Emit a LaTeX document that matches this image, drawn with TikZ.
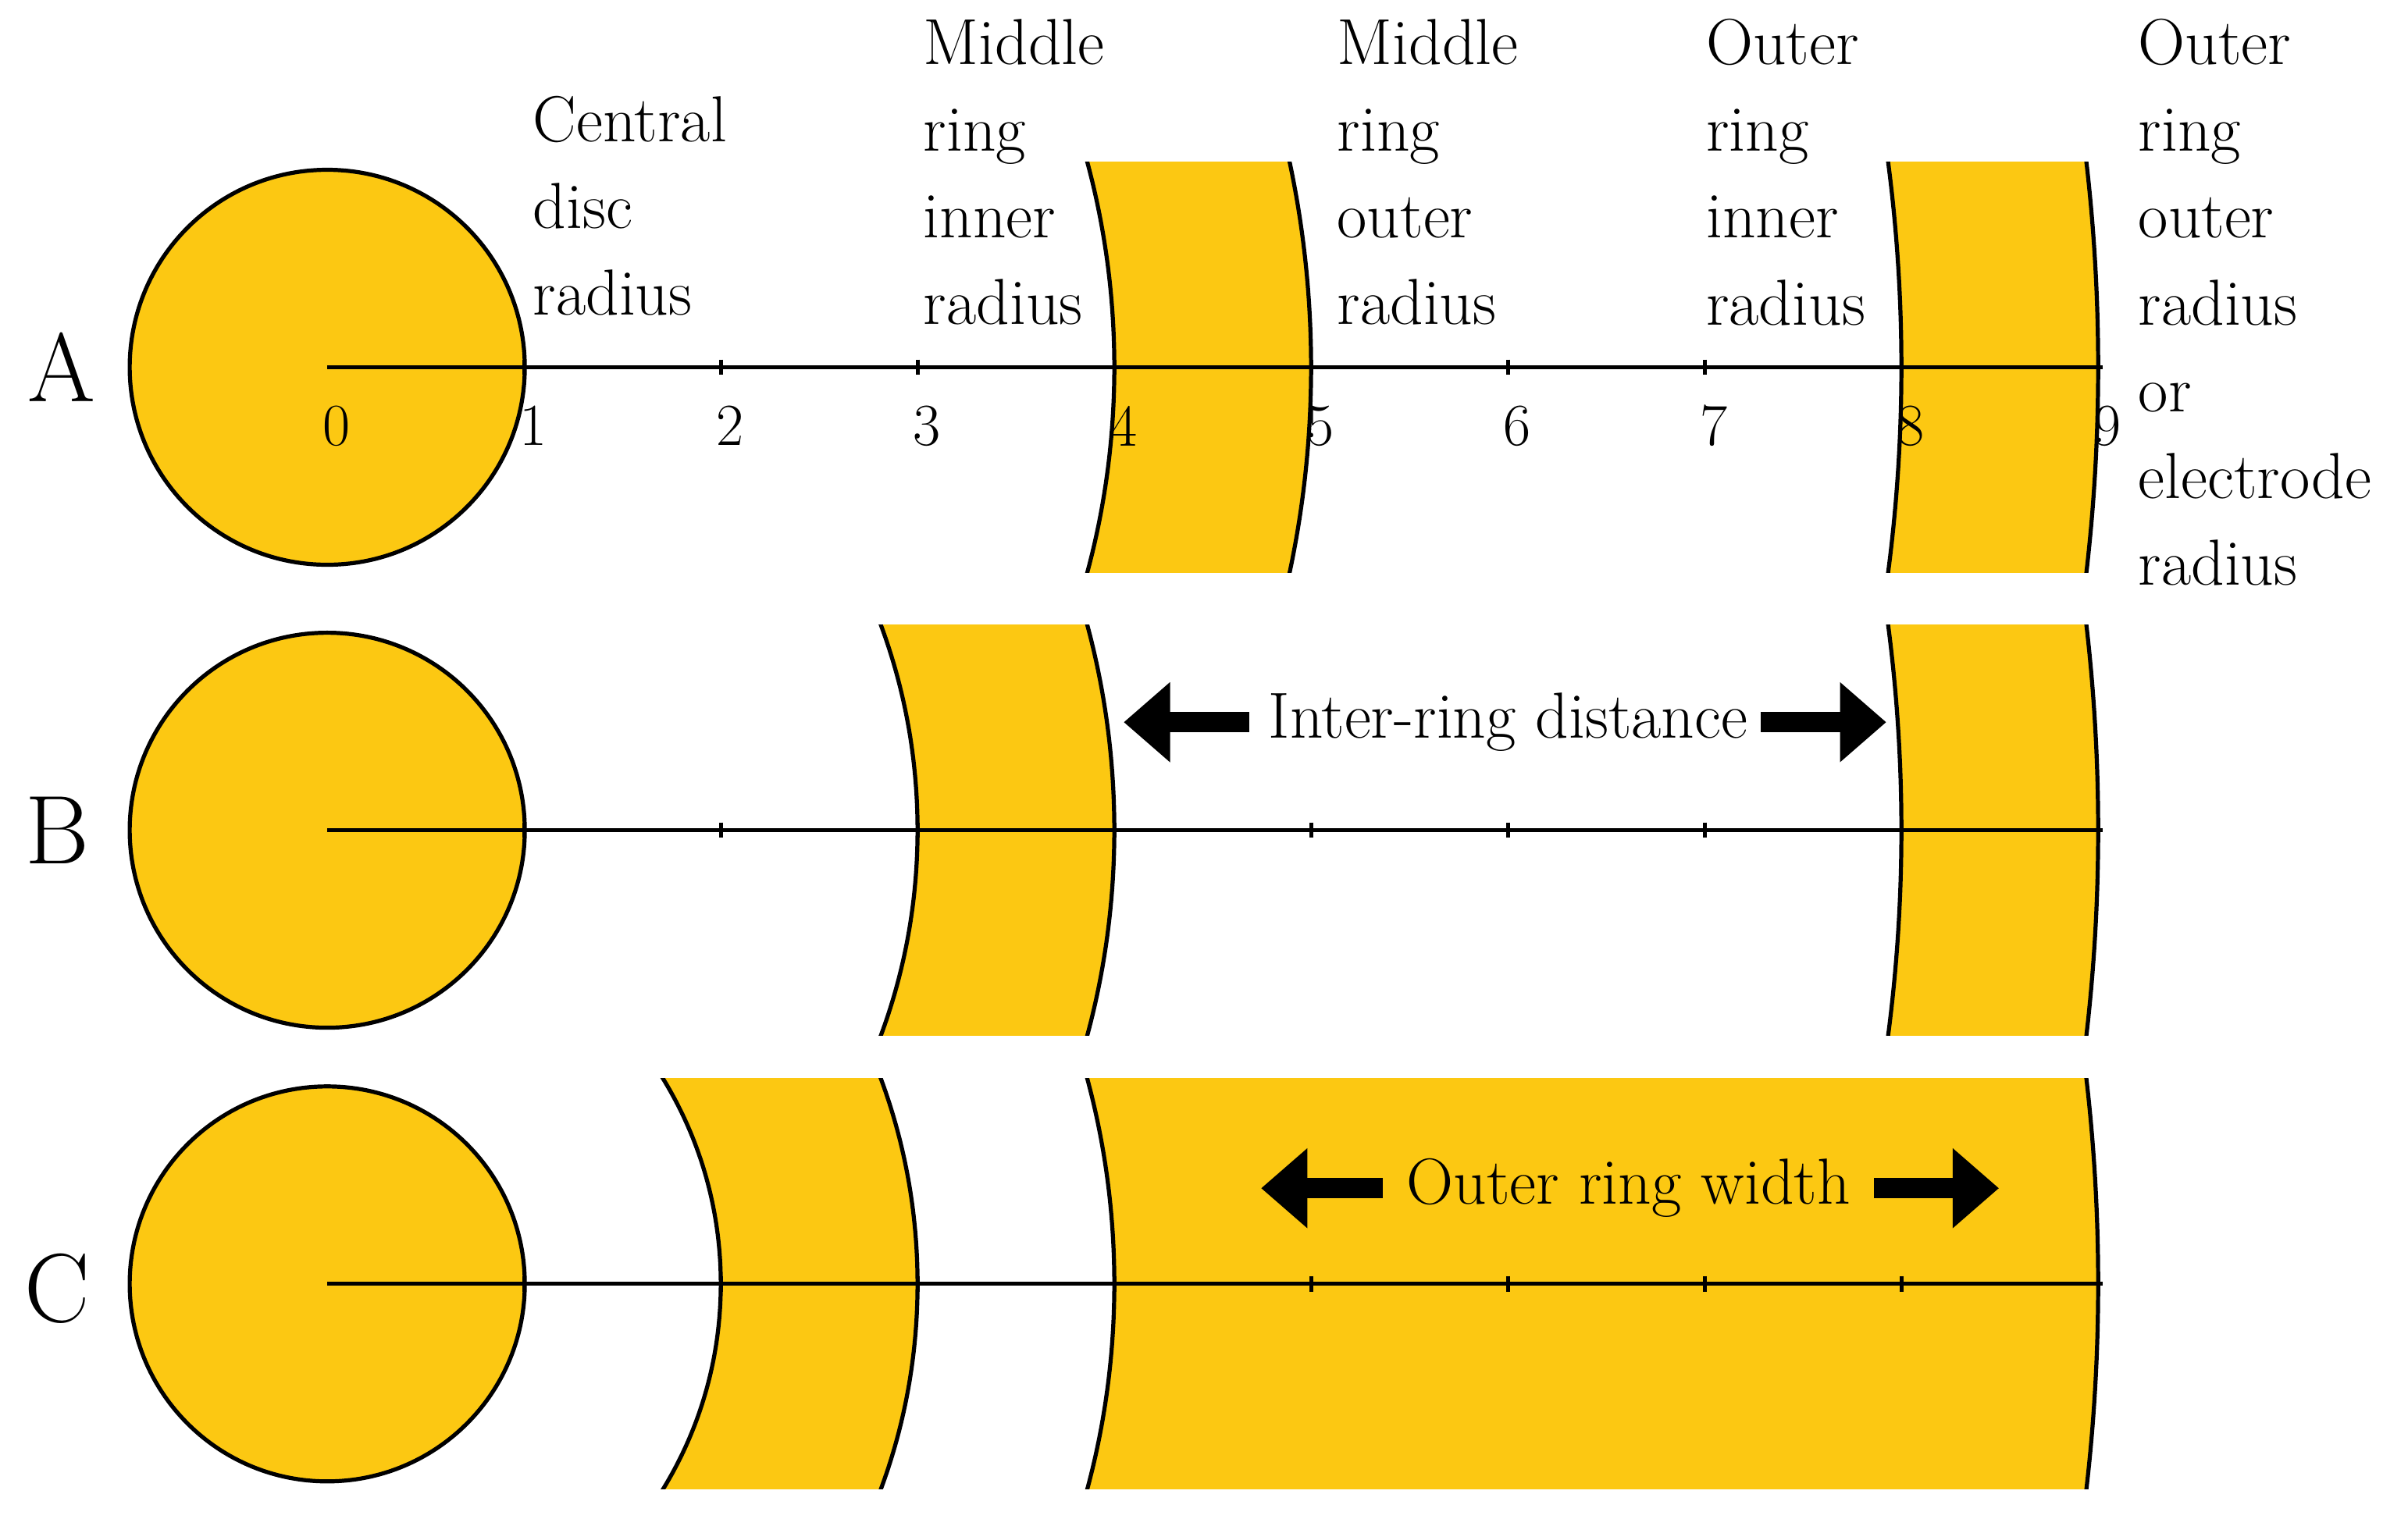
\documentclass[tikz,border=0pt]{standalone}
\usetikzlibrary{arrows.meta}
\definecolor{gold}{RGB}{252,200,18}
\begin{document}
\begin{tikzpicture}[x=0.02cm,y=-0.02cm,
  lbl/.style={font=\fontsize{24}{32}\selectfont,align=left,anchor=north west,inner sep=0pt},
  row/.style={font=\fontsize{36}{40}\selectfont},
  num/.style={font=\fontsize{22}{24}\selectfont},
  big/.style={line width=2.6mm,-{Triangle[length=6mm,width=10mm]}},
  outl/.style={line width=1.5pt}]
\useasboundingbox (0,0) rectangle (1560,984);
% rings: \ring{y}{r1}{r2}
\newcommand{\myring}[3]{%
  \begin{scope}
    \clip (212,#1-133) rectangle (1500,#1+133);
    \fill[gold,even odd rule] (212,#1) circle[radius=#3*2.55cm] (212,#1) circle[radius=#2*2.55cm];
    \draw[outl] (212,#1) circle[radius=#2*2.55cm];
    \draw[outl] (212,#1) circle[radius=#3*2.55cm];
  \end{scope}}
\newcommand{\myaxis}[1]{%
  \fill[gold] (212,#1) circle[radius=2.56cm];
  \draw[outl] (212,#1) circle[radius=2.56cm];
  \draw[line width=1.5pt] (212,#1) -- (1362,#1);
  \foreach \i in {1,...,8} \draw[line width=1.5pt] (212+127.5*\i,#1-5) -- (212+127.5*\i,#1+5);}
% Row A
\myring{238}{4}{5}\myring{238}{8}{9}\myaxis{238}
% Row B
\myring{538}{3}{4}\myring{538}{8}{9}\myaxis{538}
% Row C
\myring{832}{2}{3}\myring{832}{4}{9}\myaxis{832}
\node[row] (A) at (40,238) {A};
\node[row] (B) at (37,538) {B};
\node[row] (C) at (37,835) {C};
\foreach \i in {0,...,9} \node[num] (n\i) at (218+127.5*\i,276) {\i};
\node[lbl] (t1) at (345,62) {Central\\disc\\radius};
\node[lbl] (t2) at (598,12) {Middle\\ring\\inner\\radius};
\node[lbl] (t3) at (866,12) {Middle\\ring\\outer\\radius};
\node[lbl] (t4) at (1105,12) {Outer\\ring\\inner\\radius};
\node[lbl] (t5) at (1385,12) {Outer\\ring\\outer\\radius\\or\\electrode\\radius};
\node[lbl,anchor=center] (ird) at (977,468) {Inter-ring distance};
\coordinate (a1) at (728,468); \coordinate (a2) at (1222,468);
\draw[big] (ird.west) ++(-12,0) -- (a1);
\draw[big] (ird.east) ++(8,0) -- (a2);
\node[lbl,anchor=center] (orw) at (1055,770) {Outer ring width};
\coordinate (b1) at (817,770); \coordinate (b2) at (1295,770);
\draw[big] (orw.west) ++(-15,0) -- (b1);
\draw[big] (orw.east) ++(15,0) -- (b2);
\end{tikzpicture}
\end{document}
